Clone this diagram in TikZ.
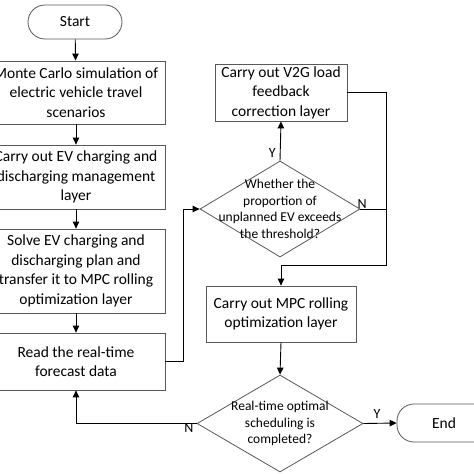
\documentclass[tikz,border=0pt]{standalone}
\usepackage{fontspec}
\setmainfont{Carlito}
\usetikzlibrary{arrows.meta,shapes.geometric}
\begin{document}
\begin{tikzpicture}[x=1pt,y=-1pt,
  box/.style={draw=black!65,line width=0.8pt,rectangle,inner sep=0pt,align=center,
    font=\fontsize{15.5}{19.5}\selectfont,text=black},
  term/.style={box,rounded corners=17pt},
  diam/.style={draw=black!65,line width=0.8pt,diamond,inner sep=0pt},
  dtext/.style={align=center,font=\fontsize{13.5}{16.5}\selectfont,text=black,inner sep=0pt},
  lbl/.style={font=\fontsize{14}{16}\selectfont,text=black,inner sep=0pt},
  arr/.style={line width=0.9pt,-{Triangle[length=7pt,width=6.5pt]}},
  ln/.style={line width=0.9pt}]
\useasboundingbox (0,0) rectangle (474,474);
\node[term,minimum width=94pt,minimum height=34pt] (start) at (75,22) {Start};
\node[box,minimum width=178pt,minimum height=63pt] (b1) at (76,92.5) {Monte Carlo simulation of\\electric vehicle travel\\scenarios};
\node[box,minimum width=178pt,minimum height=64pt] (b2) at (76,177) {Carry out EV charging and\\discharging management\\layer};
\node[box,minimum width=178pt,minimum height=84pt] (b3) at (76,271) {Solve EV charging and\\discharging plan and\\transfer it to MPC rolling\\optimization layer};
\node[box,minimum width=178pt,minimum height=57pt] (b4) at (76,361.5) {Read the real-time\\forecast data};
\node[diam,minimum width=160pt,minimum height=96pt] (d1) at (280,209) {};
\node[dtext] (d1t) at (d1.center) {Whether the\\proportion of\\unplanned EV exceeds\\the threshold?};
\node[box,minimum width=132pt,minimum height=57pt] (v2g) at (281,92.5) {Carry out V2G load\\feedback\\correction layer};
\node[box,minimum width=150pt,minimum height=56pt] (mpc) at (281,314) {Carry out MPC rolling\\optimization layer};
\node[diam,minimum width=166pt,minimum height=97pt] (d2) at (280,423.5) {};
\node[dtext] (d2t) at (d2.center) {Real-time optimal\\scheduling is\\completed?};
\node[term,minimum width=94pt,minimum height=38pt] (end) at (444,423) {End};
\coordinate (j) at (386,265);
\draw[arr] (start) -- (b1);
\draw[arr] (b1) -- (b2);
\draw[arr] (b2) -- (b3);
\draw[arr] (b3) -- (b4);
\draw[arr] (b4.east) -- ++(18,0) |- (d1.west);
\draw[arr] (d1.north) -- (v2g.south) node[lbl,pos=0.2,left=4pt] {Y};
\draw[arr] (v2g.east) -| (j) -| (mpc.north);
\draw[ln] (d1.east) -- (d1.east -| j);
\node[lbl,anchor=south west] at ([xshift=-3pt,yshift=0pt]d1.east) {N};
\draw[arr] (mpc.south) -- (d2.north);
\draw[arr] (d2.east) -- (end.west) node[lbl,midway,above=4pt,xshift=-3pt] {Y};
\draw[arr] (d2.west) -| (b4.south);
\node[lbl,anchor=north east] at ([xshift=-3pt,yshift=0pt]d2.west) {N};
\end{tikzpicture}
\end{document}
